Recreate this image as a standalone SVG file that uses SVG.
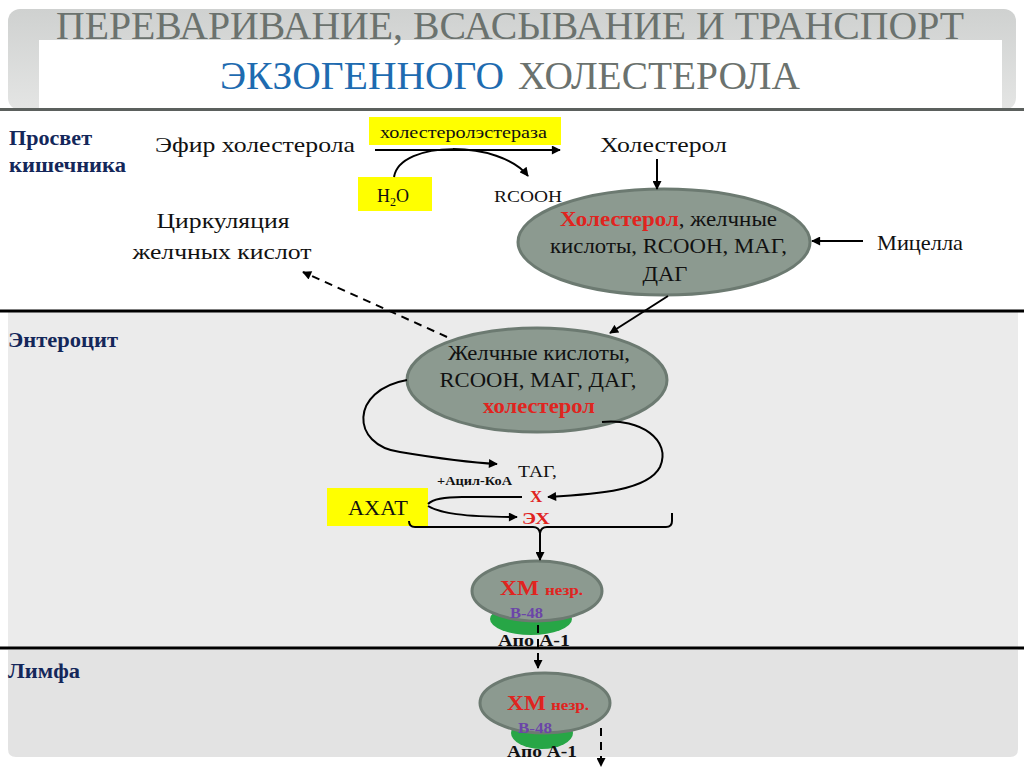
<svg xmlns="http://www.w3.org/2000/svg" width="1024" height="767" viewBox="0 0 1024 767">
<defs>
<marker id="ah" viewBox="0 0 10 10" refX="9" refY="5" markerWidth="11" markerHeight="9" markerUnits="userSpaceOnUse" orient="auto"><path d="M0,0 L10,5 L0,10 Z" fill="#000"/></marker>
<linearGradient id="tg" x1="0" y1="0" x2="0" y2="1"><stop offset="0" stop-color="#cfd1d0"/><stop offset="1" stop-color="#e4e5e4"/></linearGradient>
<style>
.b{font-weight:bold;}
.lab{font-weight:bold;font-size:20px;fill:#14275a;}
.t{font-size:22px;fill:#111;}
.m{font-size:21px;fill:#111;}
.red{fill:#e0241f;font-weight:bold;}
.ell{fill:#8c9a90;stroke:#6c7a71;stroke-width:3;}
.yel{fill:#ffff00;}
.ln{fill:none;stroke:#000;stroke-width:2;}
.dash{fill:none;stroke:#000;stroke-width:2;stroke-dasharray:8,6;}
.green{fill:#27a646;}
.title{font-size:40px;fill:#6b726e;}
</style>
</defs>
<rect width="1024" height="767" fill="#fff"/>
<rect x="8" y="312" width="1010" height="336" fill="#ebebeb"/>
<path d="M8,650 L1018,650 L1018,749 Q1018,757 1010,757 L16,757 Q8,757 8,749 Z" fill="#e3e3e3"/>
<g font-family="'Liberation Serif', 'DejaVu Serif', serif">
<g id="title">
<rect x="8" y="9" width="1008" height="101" rx="12" fill="url(#tg)"/>
<rect x="39" y="40" width="963" height="69" fill="#fff"/>
<line x1="0" y1="109.5" x2="1024" y2="109.5" stroke="#5b605d" stroke-width="3"/>
<text class="title" x="56" y="39" textLength="908" lengthAdjust="spacingAndGlyphs">ПЕРЕВАРИВАНИЕ, ВСАСЫВАНИЕ И ТРАНСПОРТ</text>
<text class="title" x="220" y="89" textLength="284" lengthAdjust="spacingAndGlyphs" style="fill:#1e6bb0">ЭКЗОГЕННОГО</text>
<text class="title" x="518" y="89" textLength="282" lengthAdjust="spacingAndGlyphs">ХОЛЕСТЕРОЛА</text>
</g>
<line x1="0" y1="311" x2="1024" y2="311" stroke="#000" stroke-width="3"/>
<line x1="0" y1="648" x2="1024" y2="648" stroke="#000" stroke-width="3"/>
<g id="labels">
<text class="lab" x="9" y="145" textLength="83" lengthAdjust="spacingAndGlyphs">Просвет</text>
<text class="lab" x="9" y="172" textLength="117" lengthAdjust="spacingAndGlyphs">кишечника</text>
<text class="lab" x="8" y="347" textLength="110" lengthAdjust="spacingAndGlyphs">Энтероцит</text>
<text class="lab" x="8" y="678" textLength="72" lengthAdjust="spacingAndGlyphs">Лимфа</text>
</g>
<g id="ester"><text class="t" x="155" y="152" textLength="200" lengthAdjust="spacingAndGlyphs">Эфир холестерола</text></g>
<g id="cholesterol"><text class="t" x="600" y="152" textLength="127" lengthAdjust="spacingAndGlyphs">Холестерол</text></g>
<g id="circulation">
<text class="t" x="223" y="228" text-anchor="middle" textLength="133" lengthAdjust="spacingAndGlyphs">Циркуляция</text>
<text class="t" x="222" y="259" text-anchor="middle" textLength="179" lengthAdjust="spacingAndGlyphs">желчных кислот</text>
</g>
<g id="enzyme">
<rect class="yel" x="369" y="117" width="192" height="28"/>
<text x="380" y="138" font-size="16" textLength="167" lengthAdjust="spacingAndGlyphs" fill="#111">холестеролэстераза</text>
</g>
<g id="water">
<rect class="yel" x="358" y="177" width="74" height="34"/>
<text x="377" y="202" font-size="18" fill="#111">H<tspan font-size="12" dy="4">2</tspan><tspan dy="-4">O</tspan></text>
</g>
<g id="rcooh"><text x="494" y="202" font-size="17" textLength="68" lengthAdjust="spacingAndGlyphs" fill="#111">RCOOH</text></g>
<g id="micelle">
<ellipse class="ell" cx="664" cy="242" rx="146" ry="53"/>
<text class="m" x="560" y="226" textLength="217" lengthAdjust="spacingAndGlyphs"><tspan class="red">Холестерол</tspan>, желчные</text>
<text class="m" x="550" y="253" textLength="237" lengthAdjust="spacingAndGlyphs">кислоты, RCOOH, МАГ,</text>
<text class="m" x="665" y="281" text-anchor="middle" textLength="45" lengthAdjust="spacingAndGlyphs">ДАГ</text>
</g>
<g id="micelle-label"><text class="m" x="877" y="250" textLength="86" lengthAdjust="spacingAndGlyphs">Мицелла</text></g>
<g id="enterocyte-mix">
<ellipse class="ell" cx="537" cy="380" rx="130" ry="52"/>
<text class="m" x="539" y="360" text-anchor="middle" textLength="182" lengthAdjust="spacingAndGlyphs">Желчные кислоты,</text>
<text class="m" x="538" y="387" text-anchor="middle" textLength="197" lengthAdjust="spacingAndGlyphs">RCOOH, МАГ, ДАГ,</text>
<text class="m red" x="539" y="413" text-anchor="middle" textLength="112" lengthAdjust="spacingAndGlyphs">холестерол</text>
</g>
<g id="products">
<text class="b" x="437" y="485" font-size="13" textLength="75" lengthAdjust="spacingAndGlyphs" fill="#111">+Ацил-КоА</text>
<text x="518" y="477" font-size="17" textLength="39" lengthAdjust="spacingAndGlyphs" fill="#111">ТАГ,</text>
<text class="red" x="530" y="502" font-size="17">Х</text>
<text class="red" x="522" y="524" font-size="17" textLength="28" lengthAdjust="spacingAndGlyphs">ЭХ</text>
</g>
<g id="axat">
<rect class="yel" x="327" y="488" width="101" height="38"/>
<text x="348" y="515" font-size="21" textLength="60" lengthAdjust="spacingAndGlyphs" fill="#111">АХАТ</text>
</g>
<g id="xm1">
<ellipse class="green" cx="531" cy="619" rx="41" ry="16"/>
<ellipse class="ell" cx="537" cy="591" rx="65" ry="30"/>
<text class="red" x="500" y="595" font-size="22" textLength="39" lengthAdjust="spacingAndGlyphs">ХМ</text>
<text class="red" x="545" y="595" font-size="14" textLength="38" lengthAdjust="spacingAndGlyphs">незр.</text>
<text class="b" x="510" y="618" font-size="15" fill="#6b45a8" textLength="33" lengthAdjust="spacingAndGlyphs">В-48</text>
<text class="b" x="498" y="646" font-size="16" fill="#111" textLength="72" lengthAdjust="spacingAndGlyphs">Апо А-1</text>
</g>
<g id="xm2">
<ellipse class="green" cx="542" cy="733" rx="31" ry="16"/>
<ellipse class="ell" cx="545" cy="703" rx="65" ry="30"/>
<text class="red" x="507" y="710" font-size="22" textLength="39" lengthAdjust="spacingAndGlyphs">ХМ</text>
<text class="red" x="551" y="710" font-size="14" textLength="38" lengthAdjust="spacingAndGlyphs">незр.</text>
<text class="b" x="518" y="733" font-size="15" fill="#6b45a8" textLength="34" lengthAdjust="spacingAndGlyphs">В-48</text>
<text class="b" x="507" y="757" font-size="16" fill="#111" textLength="70" lengthAdjust="spacingAndGlyphs">Апо А-1</text>
</g>
</g>
<g id="connectors">
<line class="ln" x1="375" y1="150" x2="560" y2="150" marker-end="url(#ah)"/>
<path class="ln" d="M394,177 C400,140 500,140 528,176" marker-end="url(#ah)"/>
<line class="ln" x1="657" y1="159" x2="657" y2="189" marker-end="url(#ah)"/>
<line class="ln" x1="863" y1="241" x2="812" y2="241" marker-end="url(#ah)"/>
<line class="ln" x1="668" y1="296" x2="610" y2="333" marker-end="url(#ah)"/>
<line class="dash" x1="447" y1="337" x2="303" y2="272" marker-end="url(#ah)"/>
<path class="ln" d="M407,380 C350,390 350,445 400,452 C430,457 460,462 497,464" marker-end="url(#ah)"/>
<path class="ln" d="M602,422 C640,418 672,440 660,467 C648,490 600,494 548,497" marker-end="url(#ah)"/>
<path class="ln" d="M522,497 L462,497 C442,497 432,500 428,504"/>
<path class="ln" d="M428,506 C440,513 462,517 517,517" marker-end="url(#ah)"/>
<path class="ln" stroke-width="1.5" d="M409,521 Q409,527 415,527 L533,527 Q539,527 540,533 Q541,527 547,527 L666,527 Q672,527 672,521 L672,513"/>
<line class="ln" x1="540" y1="533" x2="540" y2="560" stroke-width="1.5" marker-end="url(#ah)"/>
<line class="dash" x1="538" y1="625" x2="538" y2="668" marker-end="url(#ah)"/>
<line class="dash" x1="601" y1="728" x2="601" y2="766" marker-end="url(#ah)"/>
</g>
</svg>
